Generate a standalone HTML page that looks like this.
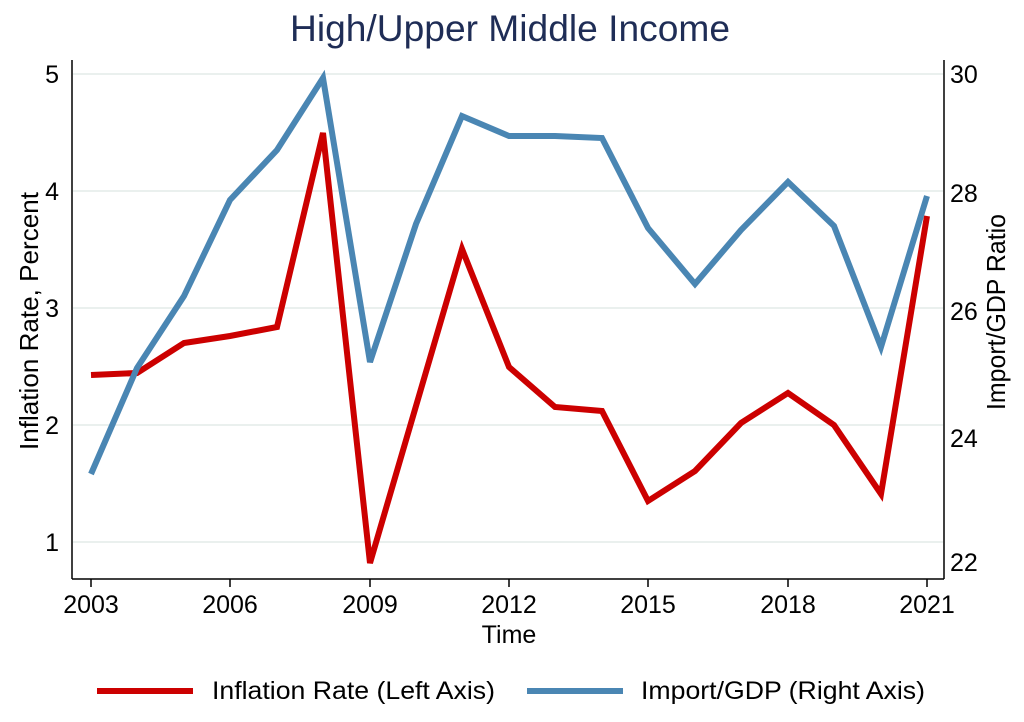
<!DOCTYPE html>
<html><head><meta charset="utf-8"><style>
html,body{margin:0;padding:0;background:#fff;}
svg{display:block;font-family:"Liberation Sans",Arial,sans-serif;}
</style></head><body>
<svg width="1024" height="722" viewBox="0 0 1024 722" xmlns="http://www.w3.org/2000/svg">
<rect width="1024" height="722" fill="#fff"/>
<text x="510" y="41" font-size="37" fill="#1f2d56" text-anchor="middle" textLength="440" lengthAdjust="spacingAndGlyphs">High/Upper Middle Income</text>
<g stroke="#e3ece9" stroke-width="1.5">
<line x1="73" y1="74" x2="943" y2="74"/>
<line x1="73" y1="191" x2="943" y2="191"/>
<line x1="73" y1="308" x2="943" y2="308"/>
<line x1="73" y1="425" x2="943" y2="425"/>
<line x1="73" y1="542" x2="943" y2="542"/>
</g>
<g stroke="#000" stroke-width="1.5" fill="none">
<line x1="72" y1="60" x2="72" y2="579"/>
<line x1="944" y1="60" x2="944" y2="579"/>
<line x1="72" y1="579" x2="944" y2="579"/>
<line x1="91" y1="579" x2="91" y2="587"/><line x1="230" y1="579" x2="230" y2="587"/><line x1="370" y1="579" x2="370" y2="587"/><line x1="509" y1="579" x2="509" y2="587"/><line x1="648" y1="579" x2="648" y2="587"/><line x1="788" y1="579" x2="788" y2="587"/><line x1="927" y1="579" x2="927" y2="587"/>
</g>
<g font-size="25" fill="#000" text-anchor="end">
<text x="59" y="83">5</text><text x="59" y="200">4</text><text x="59" y="317">3</text><text x="59" y="434">2</text><text x="59" y="551">1</text>
</g>
<g font-size="25" fill="#000">
<text x="950" y="83">30</text><text x="950" y="202">28</text><text x="950" y="320">26</text><text x="950" y="447">24</text><text x="950" y="571">22</text>
</g>
<g font-size="25" fill="#000" text-anchor="middle">
<text x="91" y="613">2003</text><text x="230" y="613">2006</text><text x="370" y="613">2009</text><text x="509" y="613">2012</text><text x="648" y="613">2015</text><text x="788" y="613">2018</text><text x="927" y="613">2021</text>
<text x="509" y="643">Time</text>
</g>
<text transform="translate(38,321) rotate(-90)" font-size="26" text-anchor="middle" textLength="258" lengthAdjust="spacingAndGlyphs">Inflation Rate, Percent</text>
<text transform="translate(1005,312) rotate(-90)" font-size="26" text-anchor="middle" textLength="196" lengthAdjust="spacingAndGlyphs">Import/GDP Ratio</text>
<polyline fill="none" stroke="#cc0000" stroke-width="6" stroke-linejoin="miter" points="91,375 137,373 184,343 230,336 277,327 323,133 370,563 416,406 462,249 509,367 555,407 602,411 648,501 695,471 741,423 788,393 834,425 881,494 927,216"/>
<polyline fill="none" stroke="#4a86b3" stroke-width="6" stroke-linejoin="miter" points="91,474 137,368 184,296 230,200 277,150 323,78 370,362 416,224 462,116 509,136 555,136 602,138 648,228 695,284 741,230 788,182 834,226 881,347 927,196"/>
<line x1="97" y1="691" x2="193" y2="691" stroke="#cc0000" stroke-width="6"/>
<text x="212" y="699" font-size="25" textLength="283" lengthAdjust="spacingAndGlyphs">Inflation Rate (Left Axis)</text>
<line x1="527" y1="691" x2="623" y2="691" stroke="#4a86b3" stroke-width="6"/>
<text x="641" y="699" font-size="25" textLength="284" lengthAdjust="spacingAndGlyphs">Import/GDP (Right Axis)</text>
</svg>
</body></html>
